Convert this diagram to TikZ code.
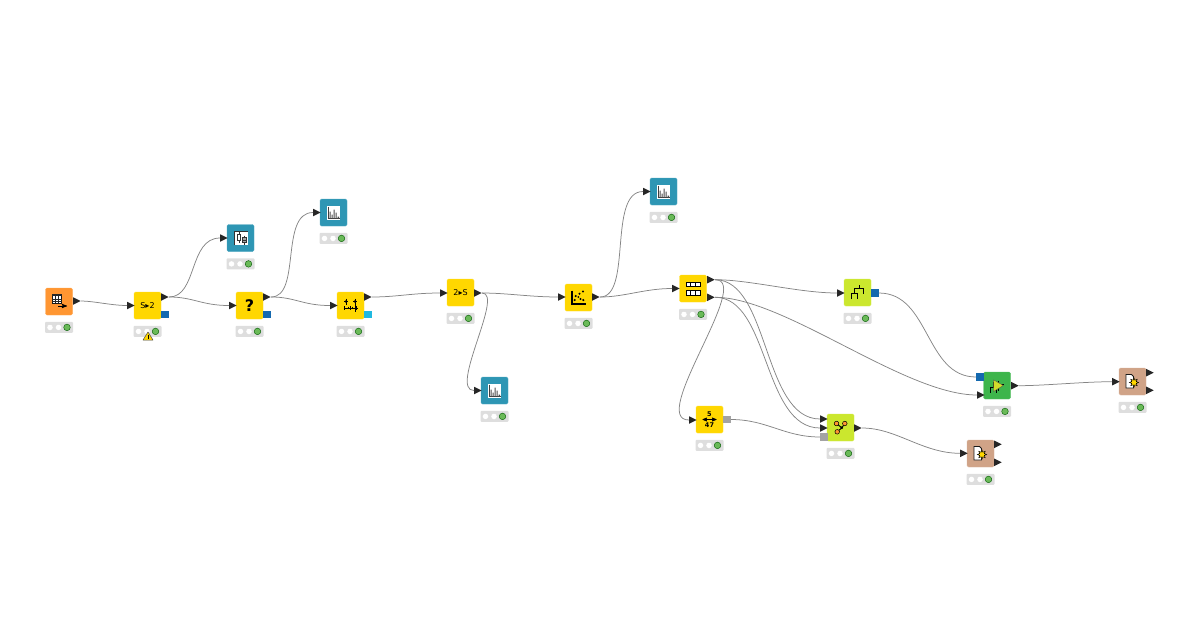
\documentclass[tikz,border=0pt]{standalone}
\usepackage{fontspec}
\setmainfont{DejaVu Sans}
\usetikzlibrary{arrows,shapes,positioning}

\definecolor{sourcecol}{HTML}{FF9632}
\definecolor{manipcol}{HTML}{FFD700}
\definecolor{viewcol}{HTML}{2E96B4}
\definecolor{learncol}{HTML}{CBE72E}
\definecolor{predcol}{HTML}{3DB54B}
\definecolor{scorecol}{HTML}{D0A387}
\definecolor{modelcol}{HTML}{1469AF}
\definecolor{pmmlcol}{HTML}{20B9E0}
\definecolor{normcol}{HTML}{A3A3A3}
\definecolor{barcol}{HTML}{DEDEDE}
\definecolor{okcol}{HTML}{6ABA58}

\tikzset{
  knode/.style={rectangle,rounded corners=1.5pt,minimum size=27pt,inner sep=0pt,draw=#1!85!white,line width=.4pt,fill=#1},
  port/.style={isosceles triangle,isosceles triangle apex angle=60,isosceles triangle stretches,
    minimum width=7.5pt,minimum height=7.5pt,inner sep=0pt,anchor=west,fill=black!85},
  sqport/.style={rectangle,minimum size=7.5pt,inner sep=0pt,fill=#1},
  statusbar/.style={rectangle,rounded corners=1pt,minimum width=28pt,minimum height=11pt,inner sep=0pt,fill=barcol},
  wire/.style={draw=black!48,line width=.75pt,to path={.. controls +(#1,0) and +(-#1,0) .. (\tikztotarget)}},
  wire/.default=25,
  ink/.style={draw=black!90,line width=.8pt},
}

% three lights under a node
\newcommand{\lights}[1]{
  \node[statusbar,below=6.5pt of #1] (#1bar) {};
  \fill[white,draw=black!15,line width=.3pt] ([xshift=-9pt]#1bar.center) circle (3.1pt);
  \fill[white,draw=black!15,line width=.3pt] ([xshift=-.5pt]#1bar.center) circle (3.1pt);
  \fill[okcol,draw=green!35!black,line width=.4pt] ([xshift=8pt]#1bar.center) circle (3.3pt);
}
% histogram icon
\newcommand{\histicon}[1]{
  \begin{scope}[shift={(#1)}]
    \fill[white] (-6.5,-6.7) rectangle (6.5,7.5);
    \draw[black!75,line width=.6pt] (-5.5,-6) -- (-5.5,6) -- (6.5,6);
    \fill[black!70] (-4,6) rectangle (-3,-1) (-2,6) rectangle (-1,2) (0,6) rectangle (1,-3)
      (2,6) rectangle (3,0) (4,6) rectangle (5.5,4);
  \end{scope}
}
% scorer icon
\newcommand{\scoreicon}[1]{
  \begin{scope}[shift={(#1)}]
    \draw[ink,fill=white] (-6.5,-7) -- (-1,-7) -- (1,-5) -- (1,6.5) -- (-6.5,6.5) -- cycle;
    \node[star,star points=8,star point ratio=1.8,minimum size=9pt,inner sep=0pt,fill=manipcol,draw=black,line width=.5pt] (#1star) at (1.5,1) {};
  \end{scope}
}

\begin{document}
\begin{tikzpicture}[x=1pt,y=-1pt,font=\fontsize{8}{9}\selectfont]
  \useasboundingbox (0,0) rectangle (1200,630);

  \node[knode=sourcecol] (Tab) at (59,301.5) {};
  \node[knode=manipcol] (Conv) at (147.5,305.5) {S{\fontsize{8}{8}\selectfont ▸}2};
  \node[knode=viewcol] (Box) at (240.5,238) {};
  \node[knode=manipcol,font=\fontsize{16}{16}\selectfont\bfseries] (Miss) at (249.5,305.5) {?};
  \node[knode=viewcol] (HistA) at (333.5,212.5) {};
  \node[knode=manipcol] (Bin) at (350.5,305.5) {};
  \node[knode=manipcol] (Back) at (460.5,292.5) {2{\fontsize{8}{8}\selectfont ▸}S};
  \node[knode=viewcol] (HistB) at (494.5,390.5) {};
  \node[knode=manipcol] (Scat) at (578.5,297.5) {};
  \node[knode=viewcol] (HistC) at (663.5,191.5) {};
  \node[knode=manipcol] (Part) at (693,288.5) {};
  \node[knode=learncol] (Learn) at (857.5,292.5) {};
  \node[knode=manipcol,align=center,font=\fontsize{6.5}{9.5}\selectfont\bfseries] (Norm) at (709.5,419.5) {5\\[.8pt]47};
  \node[knode=learncol] (Clust) at (840.5,427.5) {};
  \node[knode=predcol] (Pred) at (997,385.5) {};
  \node[knode=scorecol] (ScoreA) at (1132.5,381.5) {};
  \node[knode=scorecol] (ScoreB) at (980.5,453.5) {};

  \foreach \n in {Tab,Conv,Box,Miss,HistA,Bin,Back,HistB,Scat,HistC,Part,Learn,Norm,Clust,Pred,ScoreA,ScoreB}
    {\lights{\n}}

  % warning sign
  \draw[draw=black!70,fill=manipcol,line width=.5pt,line join=round] (148,332) -- (153,340) -- (143,340) -- cycle;
  \draw[black,line width=.6pt] (148,334.5) -- (148,337.5) (148,338.2) -- (148,339.2);

  % ports
  \node[port] (Tabo) at (73,301) {};
  \node[port] (Convi) at (127,305.5) {};
  \node[port] (Convo) at (161,297) {};
  \node[sqport=modelcol] (Convm) at (165,314.5) {};
  \node[port] (Boxi) at (220,238) {};
  \node[port] (Missi) at (229,305.5) {};
  \node[port] (Misso) at (263,297) {};
  \node[sqport=modelcol] (Missm) at (267,314.5) {};
  \node[port] (HistAi) at (313,212.5) {};
  \node[port] (Bini) at (330,305.5) {};
  \node[port] (Bino) at (364,297) {};
  \node[sqport=pmmlcol] (Binm) at (368,314.5) {};
  \node[port] (Backi) at (440,293) {};
  \node[port] (Backo) at (474,293) {};
  \node[port] (HistBi) at (474,390.5) {};
  \node[port] (Scati) at (558,297) {};
  \node[port] (Scato) at (592,297) {};
  \node[port] (HistCi) at (643,191.5) {};
  \node[port] (Parti) at (672,288.5) {};
  \node[port] (Partu) at (707,279.7) {};
  \node[port] (Partl) at (707,297.3) {};
  \node[port] (Learni) at (837,293) {};
  \node[sqport=modelcol] (Learnm) at (875,293) {};
  \node[port] (Normi) at (689,420) {};
  \node[sqport=normcol] (Normm) at (727,419.5) {};
  \node[port] (Clustu) at (820,419) {};
  \node[port] (Clustl) at (820,428) {};
  \node[sqport=normcol] (Clustm) at (824,437) {};
  \node[port] (Clusto) at (854,428) {};
  \node[sqport=modelcol] (Predm) at (980,377) {};
  \node[port] (Predi) at (977,395) {};
  \node[port] (Predo) at (1011,385.7) {};
  \node[port] (ScoreAi) at (1112,381.7) {};
  \node[port] (ScoreAu) at (1146,372.7) {};
  \node[port] (ScoreAl) at (1146,390.3) {};
  \node[port] (ScoreBi) at (960,453.3) {};
  \node[port] (ScoreBu) at (994,444.3) {};
  \node[port] (ScoreBl) at (994,462.3) {};

  % connections
  \path
  (Tabo) edge[wire=18] (Convi)
  (Convo) edge[wire=34] (Boxi)
  (Convo) edge[wire=30] (Missi)
  (Misso) edge[wire=36] (HistAi)
  (Misso) edge[wire=30] (Bini)
  (Bino) edge[wire=30] (Backi)
  (Backo) edge[wire=30] (Scati)
  (Backo) edge[wire=28] (HistBi)
  (Scato) edge[wire=38] (HistCi)
  (Scato) edge[wire=30] (Parti)
  (Partu) edge[wire=40] (Learni)
  (Partu) edge[wire=44] (Normi)
  (Partu) edge[wire=60] (Clustu)
  (Partl) edge[wire=60] (Clustl)
  (Partl) edge[wire=75] (Predi)
  (Normm) edge[wire=40] (Clustm)
  (Learnm) edge[wire=55] (Predm)
  (Clusto) edge[wire=40] (ScoreBi)
  (Predo) edge[wire=30] (ScoreAi);

  % icons
  \begin{scope}[shift={(Tab)}]
    \draw[ink,line width=.6pt,fill=white] (-6.7,-7.5) rectangle (2.7,1.5);
    \fill[black!85] (-6.7,-7.5) rectangle (2.7,-5.5);
    \draw[black!85,line width=.4pt] (-3.6,-5.5) -- (-3.6,1.5) (-.5,-5.5) -- (-.5,1.5) (-6.7,-2.5) -- (2.7,-2.5) (-6.7,-.5) -- (2.7,-.5);
    \draw[->,>=stealth',black,line width=.9pt] (-1,4.5) -- (8,4.5);
  \end{scope}
  \begin{scope}[shift={(Box)}]
    \fill[white] (-6.7,-7) rectangle (7,7);
    \draw[black!80,line width=.6pt] (-6.2,7) -- (-6.2,-6.6) -- (7,-6.6);
    \draw[black!80,line width=.6pt,fill=white] (-3.5,-3.5) rectangle (.2,2);
    \draw[black!80,line width=.6pt] (-1.7,-6) -- (-1.7,-3.5) (-1.7,2) -- (-1.7,4.5);
    \draw[black!80,line width=.6pt,fill=black!35] (1.8,-.5) rectangle (5.5,4.5);
    \draw[black!80,line width=.6pt] (3.6,-2.5) -- (3.6,-.5) (3.6,4.5) -- (3.6,6.5) (1.8,2) -- (5.5,2);
  \end{scope}
  \histicon{HistA}
  \histicon{HistB}
  \histicon{HistC}
  \begin{scope}[shift={(Bin)}]
    \draw[black,line width=.5pt] (-6.8,2.3) -- (7,2.3) (-6,.5) -- (-6,4) (-2.5,1) -- (-2.5,3.6) (0,.5) -- (0,4) (1.5,1) -- (1.5,3.6) (6,.5) -- (6,4);
    \draw[black,line width=.6pt] (-4.6,-7) -- (-4.6,-1) (4.4,-7) -- (4.4,6);
    \draw[black,line width=.6pt] (-6.5,-4) -- (-2.7,-4) (2.5,-4) -- (6.3,-4);
    \fill[black] (-4.6,-4) circle (1.3pt) (4.4,-4) circle (1.3pt);
  \end{scope}
  \begin{scope}[shift={(Scat)}]
    \draw[black,line width=1.2pt] (-6.5,-7) -- (-6.5,6.5) -- (7,6.5);
    \fill[black] (-3.8,2.5) circle (1.2pt) (-2.8,-1.5) circle (1.2pt) (1,-3.8) circle (1.2pt)
      (2,1.5) circle (1.2pt) (4.5,-6) circle (1.2pt) (4.8,2.5) circle (1.2pt) (-.2,-.5) circle (1pt);
  \end{scope}
  \begin{scope}[shift={(Part)}]
    \draw[black,line width=.7pt,fill=white] (-7,-6.3) rectangle (7,-2) (-7,2) rectangle (7,6.7);
    \draw[black,line width=.5pt] (-2.3,-6.3) -- (-2.3,-2) (2.3,-6.3) -- (2.3,-2) (-2.3,2) -- (-2.3,6.7) (2.3,2) -- (2.3,6.7);
  \end{scope}
  \begin{scope}[shift={(Learn)}]
    \draw[black,line width=1.3pt] (1.7,-7.3) -- (1.7,-3.7) (-3,1) -- (-3,-3.7) -- (6.3,-3.7) -- (6.3,1) (-6.3,6.5) -- (-6.3,1) -- (0,1) -- (0,6.5);
  \end{scope}
  \draw[<->,>=stealth',black,line width=.7pt] ([xshift=-7pt]Norm.center) -- ([xshift=7pt]Norm.center);
  \begin{scope}[shift={(Clust)}]
    \draw[black,line width=.9pt] (-4,-4) -- (1.3,.3) (4.3,-4) -- (1.3,.3) (-3.3,4.3) -- (1.3,.3);
    \fill[black] (1.3,.3) circle (1.4pt);
    \draw[black,fill=sourcecol,line width=.5pt] (-4,-4) circle (2.3pt) (4.3,-4) circle (2.3pt) (-3.3,4.3) circle (2.3pt);
  \end{scope}
  \begin{scope}[shift={(Pred)}]
    \draw[black,line width=1pt] (-6.5,7) -- (-6.5,2) -- (-1,2) -- (-1,7) (-3.5,2) -- (-3.5,-4) (1,-5) -- (1,5) (1,-1) -- (7,-1);
    \fill[yellow!75!predcol,draw=black!70,line width=.3pt] (-3.5,-5.7) -- (6.3,0) -- (-3.5,6) -- cycle;
  \end{scope}
  \scoreicon{ScoreA}
  \scoreicon{ScoreB}
\end{tikzpicture}
\end{document}
